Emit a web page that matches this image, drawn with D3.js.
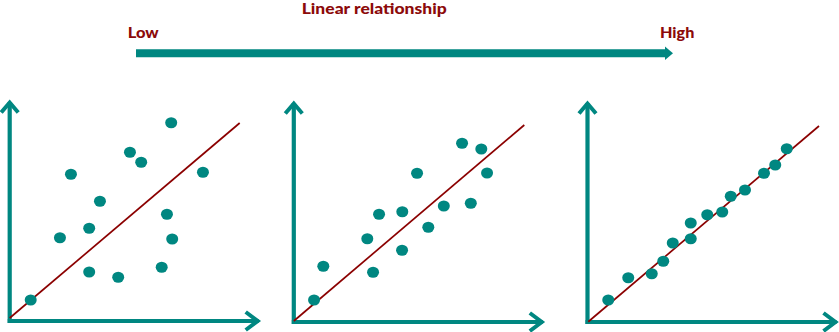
<!DOCTYPE html>
<html><head><meta charset="utf-8">
<script src="https://cdn.jsdelivr.net/npm/d3@7"></script>
<style>html,body{margin:0;padding:0;background:#fff;}svg{display:block;}</style>
</head><body>
<script>
// ---- data ----
const titleText = "Linear relationship";
const lowLabel = "Low";
const highLabel = "High";

const panel1X = [8.4, 20.1, 24.5, 31.8, 31.8, 36.1, 43.4, 48.1, 52.6, 60.8, 62.9, 65.0, 64.6, 77.3];
const panel1Y = [8.4, 33.3, 58.7, 37.1, 19.6, 47.9, 17.5, 67.5, 63.5, 21.5, 42.7, 32.8, 79.3, 59.5];
const panel1Fit = [[0, 1.2], [92, 79.2]];

const panel2X = [8.1, 11.8, 29.4, 31.7, 34.1, 43.4, 43.3, 49.3, 53.8, 60.0, 67.3, 70.8, 75.0, 77.3];
const panel2Y = [8.8, 22.3, 33.3, 19.9, 43.1, 44.1, 28.7, 59.5, 37.9, 46.4, 71.5, 47.5, 69.2, 59.6];
const panel2Fit = [[0, 0.4], [92.2, 78.8]];

const panel3X = [8.3, 16.3, 25.7, 30.3, 34.1, 41.3, 41.3, 47.9, 53.9, 57.3, 63.0, 70.6, 75.1, 79.7];
const panel3Y = [8.8, 17.7, 19.3, 24.3, 31.6, 33.3, 39.6, 42.9, 44.0, 50.3, 52.8, 59.5, 62.8, 69.3];
const panel3Fit = [[0.3, 0.1], [92.6, 78.4]];

const axisXMax = 100, axisYMax = 88;
// ---- layout ----
const W = 839, H = 332;
const TEAL = "#008781", RED = "#8c0a0a";
const panelOrigins = [[9.7, 321], [293.8, 322], [587.5, 322]];
const unit = 2.5;

const svg = d3.select("body").append("svg").attr("width", W).attr("height", H);

// header
const txt = (s, x, y, len, fs) => svg.append("text").text(s).attr("x", x).attr("y", y)
  .attr("font-family", "Lato, 'Open Sans', sans-serif").attr("font-weight", 900)
  .attr("font-size", fs).attr("fill", RED)
  .attr("textLength", len).attr("lengthAdjust", "spacingAndGlyphs");
txt(titleText, 301.7, 14.4, 145, 14.5);
txt(lowLabel, 127.7, 38.3, 31, 15);
txt(highLabel, 660, 37.7, 34.3, 15);

// top gradient arrow
svg.append("line").attr("x1", 136).attr("x2", 666).attr("y1", 53.2).attr("y2", 53.2)
  .attr("stroke", TEAL).attr("stroke-width", 8);
svg.append("path").attr("d", "M665,46.5 L673,53.2 L665,60 Z").attr("fill", TEAL);

const panels = [
  {xs: panel1X, ys: panel1Y, fit: panel1Fit},
  {xs: panel2X, ys: panel2Y, fit: panel2Fit},
  {xs: panel3X, ys: panel3Y, fit: panel3Fit}
];

panels.forEach((p, i) => {
  const [ox, oy] = panelOrigins[i];
  const x = d3.scaleLinear().domain([0, 100]).range([ox, ox + 100 * unit]);
  const y = d3.scaleLinear().domain([0, 100]).range([oy, oy - 100 * unit]);
  const g = svg.append("g");
  // axes
  g.append("path").attr("d", d3.line()([[x(0), y(0) + 2], [x(0), y(axisYMax) + 1]]))
    .attr("stroke", TEAL).attr("stroke-width", 4.2).attr("fill", "none");
  g.append("path").attr("d", d3.line()([[x(0) - 2, y(0)], [x(axisXMax) - 1, y(0)]]))
    .attr("stroke", TEAL).attr("stroke-width", 4.2).attr("fill", "none");
  // arrow heads (chevrons)
  const ty = y(axisYMax), tx = x(0);
  g.append("path").attr("d", d3.line()([[tx - 8.5, ty + 11.5], [tx, ty + 1.5], [tx + 8.5, ty + 11.5]]))
    .attr("stroke", TEAL).attr("stroke-width", 4).attr("fill", "none").attr("stroke-linejoin", "miter");
  const rx = x(axisXMax), ry = y(0);
  g.append("path").attr("d", d3.line()([[rx - 14, ry - 9], [rx - 2, ry], [rx - 14, ry + 9]]))
    .attr("stroke", TEAL).attr("stroke-width", 4).attr("fill", "none").attr("stroke-linejoin", "miter");
  // fit line
  g.append("path").attr("d", d3.line().x(d => x(d[0])).y(d => y(d[1]))(p.fit))
    .attr("stroke", "#8b0000").attr("stroke-width", 1.7).attr("fill", "none");
  // points
  g.selectAll("ellipse").data(p.xs.map((v, k) => [v, p.ys[k]])).join("ellipse")
    .attr("cx", d => x(d[0])).attr("cy", d => y(d[1]))
    .attr("rx", 6).attr("ry", 5.5).attr("fill", TEAL);
});
</script>
</body></html>
